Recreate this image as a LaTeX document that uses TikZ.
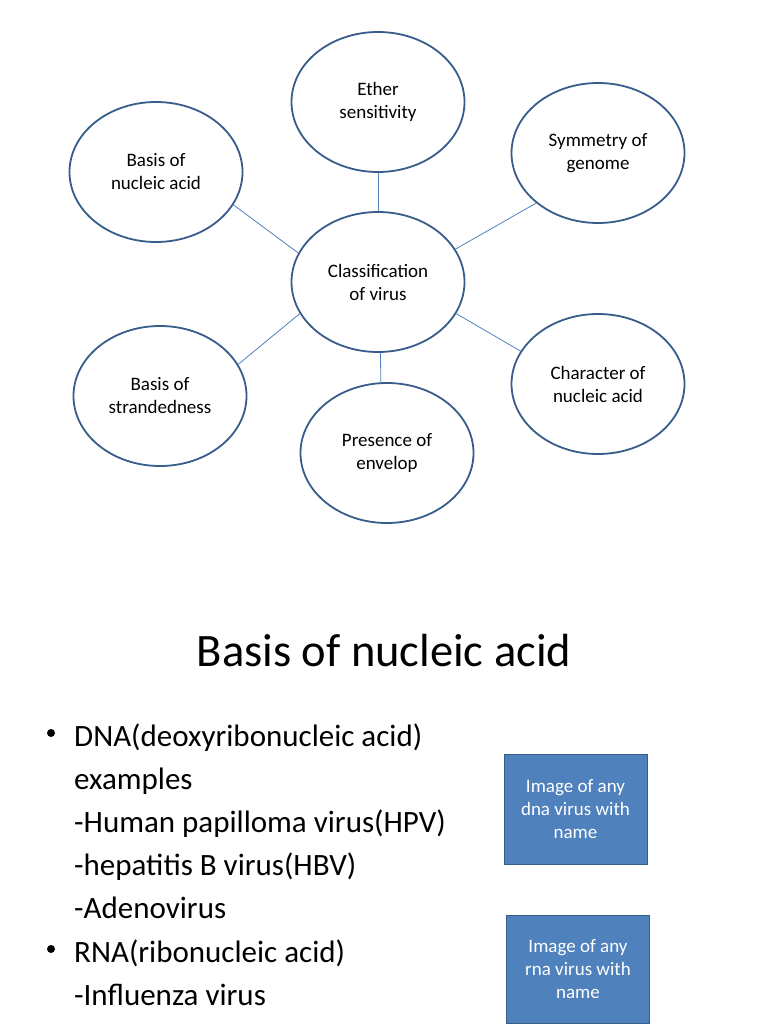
\documentclass[tikz,border=0pt]{standalone}
\usepackage{fontspec}
\setmainfont{Carlito}
\usetikzlibrary{shapes.geometric}
\definecolor{ellline}{HTML}{385D8A}
\definecolor{conline}{HTML}{4F81BD}
\definecolor{boxfill}{HTML}{4F81BD}
\tikzset{
  bubble/.style={ellipse, draw=ellline, line width=1.8pt, minimum width=173pt, minimum height=140pt, inner sep=0pt, align=center, font=\fontsize{19}{23}\selectfont},
  link/.style={draw=conline, line width=0.8pt},
  imgbox/.style={rectangle, draw=ellline, line width=1pt, fill=boxfill, text=white, minimum width=143pt, minimum height=110pt, inner sep=0pt, align=center, font=\fontsize{19}{23}\selectfont},
  bodytext/.style={anchor=base west, inner sep=0pt, font=\fontsize{31}{40}\selectfont},
  bullet/.style={circle, fill=black, inner sep=0pt, minimum size=8pt},
}
\begin{document}
\begin{tikzpicture}[x=1pt,y=-1pt]
\useasboundingbox[fill=white] (0,0) rectangle (768,1024);
\node[bubble] (ether) at (378,102) {Ether\\sensitivity};
\node[bubble] (nucl) at (156,172) {Basis of\\nucleic acid};
\node[bubble] (sym) at (598,153) {Symmetry of\\genome};
\node[bubble] (cls) at (378,282) {Classification\\of virus};
\node[bubble] (strand) at (160,396) {Basis of\\strandedness};
\node[bubble] (char) at (598,384) {Character of\\nucleic acid};
\node[bubble] (env) at (387,453) {Presence of\\envelop};
\draw[link] (ether.south) -- (cls.north);
\draw[link] (nucl.-23) -- (cls.160);
\draw[link] (sym.219) -- (cls.23);
\draw[link] (strand.22) -- (cls.202);
\draw[link] (char.157) -- (cls.338);
\draw[link] (env.95) -- (cls.272.5);
\node[anchor=base, inner sep=0pt, font=\fontsize{46.5}{50}\selectfont] (title) at (384,666) {Basis of nucleic acid};
\node[bullet] (b1) at (51,733) {};
\node[bodytext] (l1) at (74,746) {DNA(deoxyribonucleic acid)};
\node[bodytext] (l2) at (74,789) {examples};
\node[bodytext] (l3) at (74,832) {-Human papilloma virus(HPV)};
\node[bodytext] (l4) at (74,875) {-hepatitis B virus(HBV)};
\node[bodytext] (l5) at (74,918) {-Adenovirus};
\node[bullet] (b2) at (51,949) {};
\node[bodytext] (l6) at (74,962) {RNA(ribonucleic acid)};
\node[bodytext] (l7) at (74,1005) {-Influenza virus};
\node[imgbox] (dnabox) at (575.5,809) {Image of any\\dna virus with\\name};
\node[imgbox, minimum height=108pt] (rnabox) at (578,969) {Image of any\\rna virus with\\name};
\end{tikzpicture}
\end{document}
